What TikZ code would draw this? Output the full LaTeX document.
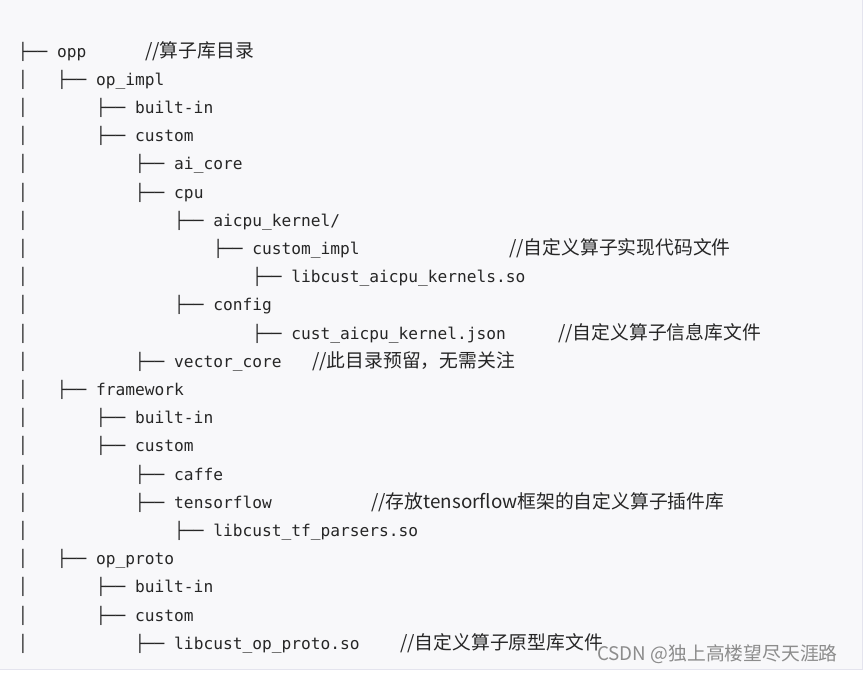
\documentclass[tikz,border=0pt]{standalone}
\usepackage{fontspec}
\newfontfamily\monof{DejaVu Sans Mono}
\newfontfamily\cjk{Noto Sans CJK SC}
\begin{document}
\begin{tikzpicture}[x=1pt,y=-1pt,
  row/.style={anchor=base west,inner sep=0pt,font=\monof\fontsize{16.2}{18}\selectfont,text=black!85},
  cmt/.style={anchor=base west,inner sep=0pt,font=\cjk\fontsize{18.8}{20}\selectfont,text=black!85}]
\useasboundingbox (0,0) rectangle (865,673);
\fill[fill={rgb,255:red,248;green,248;blue,250}] (0,0) rectangle (862,669);
\draw[draw={rgb,255:red,228;green,228;blue,238}] (862,0) -- (862,669) -- (0,669);
\def\r#1#2#3{\node[row] (#1) at (18,{51+28.2*(#2-1)+6}) {#3};}
\r{l1}{1}{├──~opp}
\r{l2}{2}{│~~~├──~op\_impl}
\r{l3}{3}{│~~~~~~~├──~built-in}
\r{l4}{4}{│~~~~~~~├──~custom}
\r{l5}{5}{│~~~~~~~~~~~├──~ai\_core}
\r{l6}{6}{│~~~~~~~~~~~├──~cpu}
\r{l7}{7}{│~~~~~~~~~~~~~~~├──~aicpu\_kernel/}
\r{l8}{8}{│~~~~~~~~~~~~~~~~~~~├──~custom\_impl}
\r{l9}{9}{│~~~~~~~~~~~~~~~~~~~~~~~├──~libcust\_aicpu\_kernels.so}
\r{l10}{10}{│~~~~~~~~~~~~~~~├──~config}
\r{l11}{11}{│~~~~~~~~~~~~~~~~~~~~~~~├──~cust\_aicpu\_kernel.json}
\r{l12}{12}{│~~~~~~~~~~~├──~vector\_core}
\r{l13}{13}{│~~~├──~framework}
\r{l14}{14}{│~~~~~~~├──~built-in}
\r{l15}{15}{│~~~~~~~├──~custom}
\r{l16}{16}{│~~~~~~~~~~~├──~caffe}
\r{l17}{17}{│~~~~~~~~~~~├──~tensorflow}
\r{l18}{18}{│~~~~~~~~~~~~~~~├──~libcust\_tf\_parsers.so}
\r{l19}{19}{│~~~├──~op\_proto}
\r{l20}{20}{│~~~~~~~├──~built-in}
\r{l21}{21}{│~~~~~~~├──~custom}
\r{l22}{22}{│~~~~~~~~~~~├──~libcust\_op\_proto.so}
\node[cmt] (c1) at (145,57) {//算子库目录};
\node[cmt] (c8) at (509,{51+28.2*7+6}) {//自定义算子实现代码文件};
\node[cmt] (c11) at (558,{51+28.2*10+6}) {//自定义算子信息库文件};
\node[cmt] (c12) at (312,{51+28.2*11+6}) {//此目录预留，无需关注};
\node[cmt] (c17) at (371,{51+28.2*16+6}) {//存放tensorflow框架的自定义算子插件库};
\node[cmt] (c22) at (400,{51+28.2*21+6}) {//自定义算子原型库文件};
\node[anchor=base west,inner sep=0pt,font=\cjk\fontsize{18.8}{20}\selectfont,text=black!45] (wm) at (597,660) {CSDN @独上高楼望尽天涯路};
\end{tikzpicture}
\end{document}
